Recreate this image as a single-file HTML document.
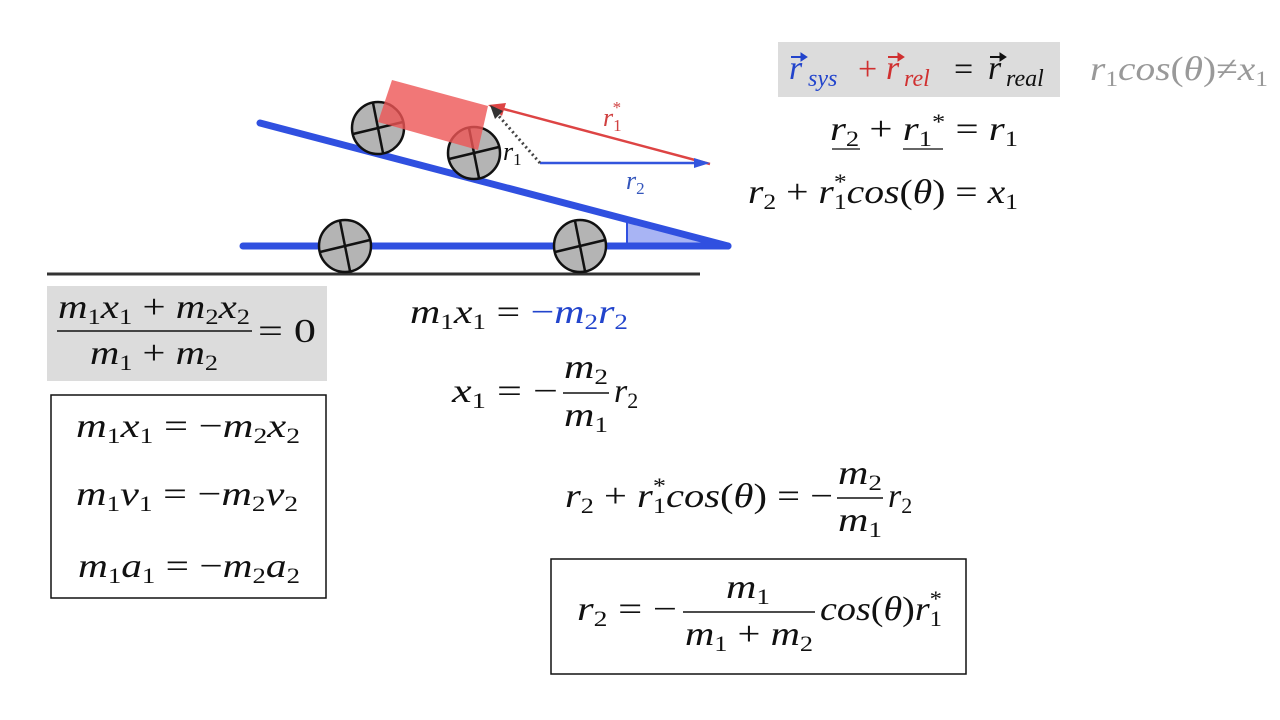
<!DOCTYPE html>
<html><head><style>
body{margin:0;background:#fff}
svg{display:block}
text{font-family:"Liberation Serif",serif;fill:#111}
.i{font-style:italic}
</style></head><body>
<svg width="1280" height="720" viewBox="0 0 1280 720">
<defs>
<g id="wh"><circle r="26" fill="#b4b4b4" stroke="#111" stroke-width="2.5"/><line x1="-5" y1="-25" x2="5" y2="25" stroke="#111" stroke-width="2.5"/><line x1="-25" y1="6" x2="25" y2="-6" stroke="#111" stroke-width="2.5"/></g>
<g id="va"><line x1="0" y1="0" x2="14" y2="0" stroke-width="2"/><polygon points="16,0 10,-4 10,4"/></g>
</defs>
<line x1="47" y1="274" x2="700" y2="274" stroke="#333" stroke-width="3"/>
<path d="M627,221 L627,246 L728,246 Z" fill="#a8b4f4"/>
<line x1="627" y1="221" x2="627" y2="246" stroke="#3050e0" stroke-width="2"/>
<line x1="243" y1="246" x2="728" y2="246" stroke="#3050e0" stroke-width="7" stroke-linecap="round"/>
<line x1="260" y1="123" x2="728" y2="246" stroke="#3050e0" stroke-width="7" stroke-linecap="round"/>
<use href="#wh" x="345" y="246"/>
<use href="#wh" x="580" y="246"/>
<use href="#wh" x="378" y="128"/>
<use href="#wh" x="474" y="153"/>
<polygon points="392,80 488,106 478,150 378,122" fill="#ee5555" opacity="0.8"/>
<line x1="710" y1="164" x2="500" y2="108" stroke="#dd4444" stroke-width="2.5"/>
<polygon points="488,105 506,103 502,116" fill="#dd4444"/>
<line x1="540" y1="163" x2="696" y2="163" stroke="#3355dd" stroke-width="2.5"/>
<polygon points="710,163 694,158 694,168" fill="#3355dd"/>
<line x1="540" y1="163" x2="497" y2="114" stroke="#444" stroke-width="3" stroke-dasharray="2,3"/>
<polygon points="490,105 503,111 495,119" fill="#333"/>
<text x="603" y="126" class="i" font-size="26" style="fill:#d04040">r<tspan font-size="17" dy="5" font-style="normal">1</tspan><tspan font-size="17" dy="-18" dx="-9" font-style="normal">*</tspan></text>
<text x="503" y="160" class="i" font-size="26">r<tspan font-size="17" dy="5" font-style="normal">1</tspan></text>
<text x="626" y="189" class="i" font-size="26" style="fill:#3355bb">r<tspan font-size="17" dy="5" font-style="normal">2</tspan></text>

<rect x="778" y="42" width="282" height="55" fill="#dcdcdc"/>
<text x="789" y="79" font-size="34" class="i" style="fill:#2244cc">r</text>
<text x="808" y="86" font-size="24" class="i" style="fill:#2244cc">sys</text>
<use href="#va" x="791" y="57" stroke="#2244cc" fill="#2244cc"/>
<text x="858" y="80" font-size="34" style="fill:#d03030">+</text>
<text x="886" y="79" font-size="34" class="i" style="fill:#d03030">r</text>
<text x="904" y="86" font-size="24" class="i" style="fill:#d03030">rel</text>
<use href="#va" x="888" y="57" stroke="#d03030" fill="#d03030"/>
<text x="954" y="80" font-size="34">=</text>
<text x="988" y="79" font-size="34" class="i">r</text>
<text x="1006" y="86" font-size="24" class="i">real</text>
<use href="#va" x="990" y="57" stroke="#111" fill="#111"/>
<text x="1090" y="80" font-size="34" class="i" style="fill:#999" textLength="178" lengthAdjust="spacingAndGlyphs">r<tspan font-size="22" dy="6" font-style="normal">1</tspan><tspan dy="-6">cos</tspan><tspan font-style="normal">(</tspan>θ<tspan font-style="normal">)≠</tspan>x<tspan font-size="22" dy="6" font-style="normal">1</tspan></text>
<text x="830" y="140" font-size="34" class="i" textLength="188" lengthAdjust="spacingAndGlyphs">r<tspan font-size="22" dy="6" font-style="normal">2</tspan><tspan dy="-6" font-style="normal"> + </tspan>r<tspan font-size="22" dy="6" font-style="normal">1</tspan><tspan font-size="22" dy="-17" font-style="normal">*</tspan><tspan dy="11" font-style="normal"> = </tspan>r<tspan font-size="22" dy="6" font-style="normal">1</tspan></text>
<line x1="832" y1="149" x2="860" y2="149" stroke="#333" stroke-width="1.5"/>
<line x1="903" y1="149" x2="943" y2="149" stroke="#333" stroke-width="1.5"/>
<text x="748" y="203" font-size="34" class="i" textLength="270" lengthAdjust="spacingAndGlyphs">r<tspan font-size="22" dy="6" font-style="normal">2</tspan><tspan dy="-6" font-style="normal"> + </tspan>r<tspan font-size="22" dy="6" font-style="normal">1</tspan><tspan font-size="22" dy="-20" dx="-11" font-style="normal">*</tspan><tspan dy="14">cos</tspan><tspan font-style="normal">(</tspan>θ<tspan font-style="normal">) = </tspan>x<tspan font-size="22" dy="6" font-style="normal">1</tspan></text>

<rect x="47" y="286" width="280" height="95" fill="#dcdcdc"/>
<text x="58" y="318" font-size="34" class="i" textLength="192" lengthAdjust="spacingAndGlyphs">m<tspan font-size="22" dy="6" font-style="normal">1</tspan><tspan dy="-6">x</tspan><tspan font-size="22" dy="6" font-style="normal">1</tspan><tspan dy="-6" font-style="normal"> + </tspan>m<tspan font-size="22" dy="6" font-style="normal">2</tspan><tspan dy="-6">x</tspan><tspan font-size="22" dy="6" font-style="normal">2</tspan></text>
<line x1="57" y1="331" x2="252" y2="331" stroke="#111" stroke-width="1.5"/>
<text x="90" y="364" font-size="34" class="i" textLength="128" lengthAdjust="spacingAndGlyphs">m<tspan font-size="22" dy="6" font-style="normal">1</tspan><tspan dy="-6" font-style="normal"> + </tspan>m<tspan font-size="22" dy="6" font-style="normal">2</tspan></text>
<text x="258" y="342" font-size="34" textLength="58" lengthAdjust="spacingAndGlyphs">= 0</text>

<rect x="51" y="395" width="275" height="203" fill="none" stroke="#111" stroke-width="1.5"/>
<text x="76" y="437" font-size="34" class="i" textLength="224" lengthAdjust="spacingAndGlyphs">m<tspan font-size="22" dy="6" font-style="normal">1</tspan><tspan dy="-6">x</tspan><tspan font-size="22" dy="6" font-style="normal">1</tspan><tspan dy="-6" font-style="normal"> = −</tspan>m<tspan font-size="22" dy="6" font-style="normal">2</tspan><tspan dy="-6">x</tspan><tspan font-size="22" dy="6" font-style="normal">2</tspan></text>
<text x="76" y="505" font-size="34" class="i" textLength="222" lengthAdjust="spacingAndGlyphs">m<tspan font-size="22" dy="6" font-style="normal">1</tspan><tspan dy="-6">v</tspan><tspan font-size="22" dy="6" font-style="normal">1</tspan><tspan dy="-6" font-style="normal"> = −</tspan>m<tspan font-size="22" dy="6" font-style="normal">2</tspan><tspan dy="-6">v</tspan><tspan font-size="22" dy="6" font-style="normal">2</tspan></text>
<text x="78" y="577" font-size="34" class="i" textLength="222" lengthAdjust="spacingAndGlyphs">m<tspan font-size="22" dy="6" font-style="normal">1</tspan><tspan dy="-6">a</tspan><tspan font-size="22" dy="6" font-style="normal">1</tspan><tspan dy="-6" font-style="normal"> = −</tspan>m<tspan font-size="22" dy="6" font-style="normal">2</tspan><tspan dy="-6">a</tspan><tspan font-size="22" dy="6" font-style="normal">2</tspan></text>

<text x="410" y="323" font-size="34" class="i" textLength="218" lengthAdjust="spacingAndGlyphs">m<tspan font-size="22" dy="6" font-style="normal">1</tspan><tspan dy="-6">x</tspan><tspan font-size="22" dy="6" font-style="normal">1</tspan><tspan dy="-6" font-style="normal"> = </tspan><tspan style="fill:#2244cc"><tspan font-style="normal">−</tspan>m<tspan font-size="22" dy="6" font-style="normal">2</tspan><tspan dy="-6">r</tspan><tspan font-size="22" dy="6" font-style="normal">2</tspan></tspan></text>
<text x="452" y="402" font-size="34" class="i" textLength="106" lengthAdjust="spacingAndGlyphs">x<tspan font-size="22" dy="6" font-style="normal">1</tspan><tspan dy="-6" font-style="normal"> = −</tspan></text>
<text x="564" y="378" font-size="34" class="i" textLength="44" lengthAdjust="spacingAndGlyphs">m<tspan font-size="22" dy="6" font-style="normal">2</tspan></text>
<line x1="563" y1="393" x2="609" y2="393" stroke="#111" stroke-width="1.5"/>
<text x="564" y="426" font-size="34" class="i" textLength="44" lengthAdjust="spacingAndGlyphs">m<tspan font-size="22" dy="6" font-style="normal">1</tspan></text>
<text x="614" y="402" font-size="34" class="i">r<tspan font-size="22" dy="6" font-style="normal">2</tspan></text>

<text x="565" y="507" font-size="34" class="i" textLength="268" lengthAdjust="spacingAndGlyphs">r<tspan font-size="22" dy="6" font-style="normal">2</tspan><tspan dy="-6" font-style="normal"> + </tspan>r<tspan font-size="22" dy="6" font-style="normal">1</tspan><tspan font-size="22" dy="-20" dx="-11" font-style="normal">*</tspan><tspan dy="14">cos</tspan><tspan font-style="normal">(</tspan>θ<tspan font-style="normal">) = −</tspan></text>
<text x="838" y="484" font-size="34" class="i" textLength="44" lengthAdjust="spacingAndGlyphs">m<tspan font-size="22" dy="6" font-style="normal">2</tspan></text>
<line x1="837" y1="498" x2="883" y2="498" stroke="#111" stroke-width="1.5"/>
<text x="838" y="531" font-size="34" class="i" textLength="44" lengthAdjust="spacingAndGlyphs">m<tspan font-size="22" dy="6" font-style="normal">1</tspan></text>
<text x="888" y="507" font-size="34" class="i">r<tspan font-size="22" dy="6" font-style="normal">2</tspan></text>

<rect x="551" y="559" width="415" height="115" fill="none" stroke="#111" stroke-width="1.5"/>
<text x="577" y="620" font-size="34" class="i" textLength="100" lengthAdjust="spacingAndGlyphs">r<tspan font-size="22" dy="6" font-style="normal">2</tspan><tspan dy="-6" font-style="normal"> = −</tspan></text>
<text x="726" y="598" font-size="34" class="i" textLength="44" lengthAdjust="spacingAndGlyphs">m<tspan font-size="22" dy="6" font-style="normal">1</tspan></text>
<line x1="683" y1="612" x2="815" y2="612" stroke="#111" stroke-width="1.5"/>
<text x="685" y="645" font-size="34" class="i" textLength="128" lengthAdjust="spacingAndGlyphs">m<tspan font-size="22" dy="6" font-style="normal">1</tspan><tspan dy="-6" font-style="normal"> + </tspan>m<tspan font-size="22" dy="6" font-style="normal">2</tspan></text>
<text x="820" y="620" font-size="34" class="i" textLength="122" lengthAdjust="spacingAndGlyphs">cos<tspan font-style="normal">(</tspan>θ<tspan font-style="normal">)</tspan>r<tspan font-size="22" dy="6" font-style="normal">1</tspan><tspan font-size="22" dy="-20" dx="-11" font-style="normal">*</tspan></text>
</svg>
</body></html>
